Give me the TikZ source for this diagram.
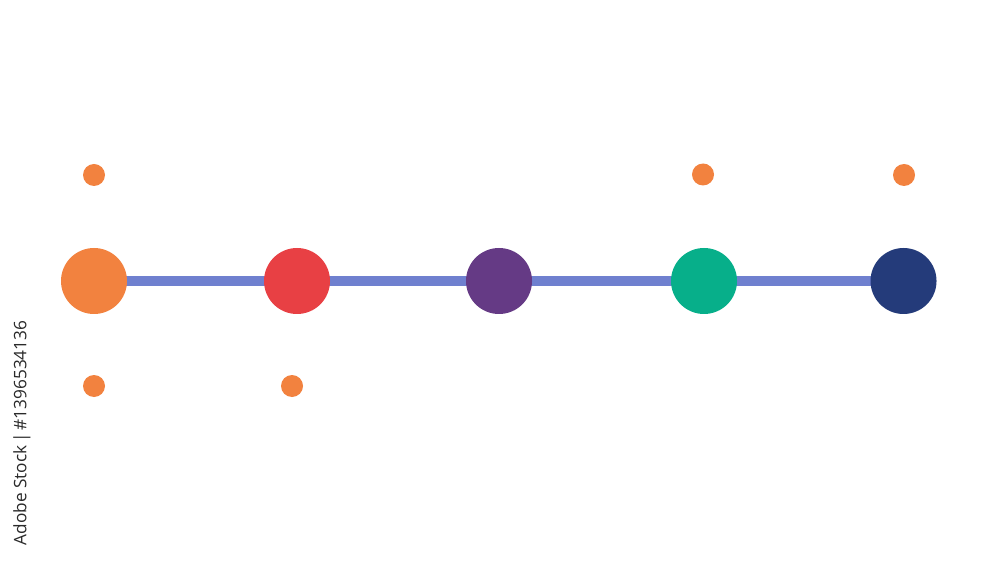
\documentclass[tikz,border=0pt]{standalone}
\usepackage{fontspec}
\setmainfont{Open Sans}
\definecolor{cOrange}{HTML}{F2823F}
\definecolor{cRed}{HTML}{E84044}
\definecolor{cPurple}{HTML}{653A85}
\definecolor{cGreen}{HTML}{07AF8A}
\definecolor{cNavy}{HTML}{243B7A}
\definecolor{cLine}{HTML}{6F80CF}
\definecolor{cText}{HTML}{2A2A2A}
\tikzset{
  bigdot/.style={circle, minimum size=0.66cm, inner sep=0pt, draw=none},
  smalldot/.style={circle, minimum size=0.22cm, inner sep=0pt, fill=cOrange, draw=none},
  link/.style={cLine, line width=0.1cm},
}
\begin{document}
\begin{tikzpicture}[x=1cm,y=1cm]
\useasboundingbox (0,0) rectangle (10,5.63);
\fill[white] (0,0) rectangle (10,5.63);
% big circles (positions from pixel coords: x/100, (563-y)/100)
\coordinate (c1) at (0.94,2.82);
\coordinate (c2) at (2.97,2.82);
\coordinate (c3) at (4.99,2.82);
\coordinate (c4) at (7.04,2.82);
\coordinate (c5) at (9.035,2.82);
\draw[link] (c1) -- (c2) -- (c3) -- (c4) -- (c5);
\node[bigdot, fill=cOrange] (n1) at (c1) {};
\node[bigdot, fill=cRed] (n2) at (c2) {};
\node[bigdot, fill=cPurple] (n3) at (c3) {};
\node[bigdot, fill=cGreen] (n4) at (c4) {};
\node[bigdot, fill=cNavy] (n5) at (c5) {};
% small dots
\node[smalldot] (s1) at (0.94,3.88) {};
\node[smalldot] (s2) at (7.03,3.885) {};
\node[smalldot] (s3) at (9.04,3.88) {};
\node[smalldot] (s4) at (0.94,1.77) {};
\node[smalldot] (s5) at (2.92,1.77) {};
% vertical credit text
\node[rotate=90, text=cText, font=\fontsize{4.9pt}{5.8pt}\selectfont, inner sep=0pt] (credit) at (0.22,1.30) {Adobe Stock\,|\,\#1396534136};
\end{tikzpicture}
\end{document}
